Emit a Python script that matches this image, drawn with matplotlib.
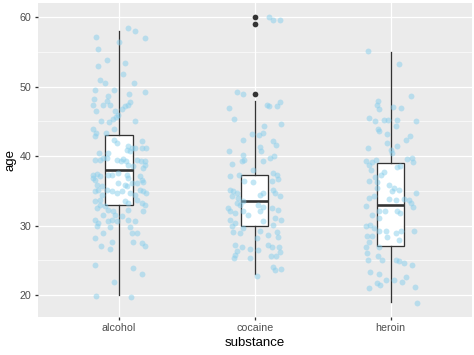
import matplotlib
matplotlib.use("Agg")
import matplotlib.pyplot as plt
import numpy as np

plt.rcParams['font.family'] = ['Liberation Sans', 'DejaVu Sans']

categories = ["alcohol", "cocaine", "heroin"]

# jittered observations: age values and horizontal jitter (category units)
alcohol_age = [58.4, 58.0, 57.0, 57.2, 56.5, 55.4, 53.8, 53.4, 53.0, 51.9, 50.9, 50.5, 50.5, 49.5, 49.5, 49.0,
               49.3, 48.7, 48.2, 47.9, 47.8, 47.3, 47.3, 47.4, 47.2, 47.4, 46.5, 46.5, 46.8, 45.7, 45.3, 45.1,
               44.9, 45.1, 46.0, 43.9, 43.4, 42.9, 43.4, 43.9,
               42.38, 41.9, 41.42, 41.18, 41.18, 41.18, 41.18, 40.94, 40.7, 42.24, 40.46, 39.5, 39.5, 39.74,
               39.74, 39.5, 39.26, 39.6, 39.26, 39.5, 39.26, 39.26, 38.68, 40.46, 38.77, 38.53, 38.29, 37.33,
               37.43, 37.09, 36.61, 36.85, 37.33, 37.33, 37.57, 37.33, 36.85, 37.09, 36.61, 36.27, 36.13, 36.13,
               35.89, 36.13, 35.65, 35.89, 35.65, 35.17, 34.93, 35.17, 34.93, 34.68, 34.93, 34.68, 35.17, 34.93,
               34.68, 34.44, 34.44, 33.72, 33.48, 33.48, 33.24, 33.72, 33.24, 33.0, 33.0, 32.76, 32.52, 32.28,
               32.04, 32.28, 32.04, 31.56, 31.46, 31.31, 30.83, 30.35, 30.59, 30.83, 30.59, 30.83, 30.59,
               29.96, 28.9, 29.86, 29.86, 28.9, 29.0, 28.18, 27.7, 27.12, 26.64, 27.7, 27.46, 27.07, 24.33,
               23.85, 22.98, 21.83, 19.9, 19.66]
alcohol_jitter = [0.064, 0.118, 0.192, -0.170, 0.002, -0.155, -0.086, 0.044, -0.153, 0.032, -0.140, -0.101, 0.111,
                  -0.177, -0.039, 0.076, 0.192, -0.079, -0.185, -0.091, 0.081, -0.116, -0.194, -0.066, 0.046, 0.069,
                  -0.170, -0.030, 0.020, -0.022, -0.042, -0.133, -0.072, 0.118, -0.005, -0.190, -0.172, -0.177,
                  -0.096, -0.037,
                  -0.034, -0.017, 0.069, 0.093, 0.118, 0.167, 0.195, 0.057, 0.081, 0.167, -0.148, -0.177, -0.140,
                  -0.116, -0.086, -0.017, 0.012, 0.032, 0.049, 0.130, 0.160, 0.192, 0.192, -0.079, 0.069, 0.106,
                  0.180, -0.189, -0.165, -0.140, -0.177, -0.195, -0.079, -0.054, -0.005, 0.057, 0.069, 0.155, 0.167,
                  0.180, 0.130, -0.005, 0.044, 0.093, 0.057, -0.165, -0.128, -0.153, -0.177, -0.091, -0.054, -0.017,
                  0.020, 0.081, 0.155, 0.180, 0.195, 0.118, -0.128, -0.140, -0.177, 0.044, 0.069, 0.130, 0.167,
                  0.192, -0.140, -0.103, -0.165, -0.079, -0.042, 0.069, 0.180, -0.116, -0.030, 0.020, -0.177,
                  -0.153, -0.079, -0.054, -0.017, 0.069, 0.118,
                  -0.165, -0.116, -0.066, 0.081, 0.094, 0.130, -0.177, -0.054, -0.135, -0.066, 0.106, 0.167, 0.192,
                  -0.177, 0.101, 0.167, -0.034, -0.172, 0.089]

cocaine_age = [60.05, 59.57, 59.57, 49.22, 48.98, 46.96, 45.42, 47.44, 47.2, 47.2, 47.83, 44.31, 44.7, 43.21, 43.01,
               43.35, 42.29, 42.24, 41.67, 41.28, 40.8, 40.8, 40.13, 40.08, 39.74, 39.36, 39.4, 39.36, 38.87,
               37.09, 37.33, 38.05, 37.57, 37.33, 36.7, 36.4, 36.4, 36.22, 35.16, 34.92, 34.68, 34.2, 33.96, 34.44,
               34.68, 35.16, 34.68, 34.3, 33.24, 33.0, 33.48, 33.0, 32.75, 32.51, 32.03, 31.79, 32.03, 31.55, 32.03,
               32.51, 32.18, 31.07, 30.83, 30.83, 30.35, 29.87, 29.63, 30.59, 30.11, 29.14, 28.9, 29.29, 28.66,
               29.14, 28.42, 28.18,
               27.22, 26.88, 26.4, 26.59, 26.49, 27.22, 26.88, 26.98, 26.25, 25.77, 25.39, 25.63, 25.68, 25.29,
               24.09, 23.61, 23.8, 22.74]
cocaine_jitter = [0.106, 0.135, 0.185, -0.130, -0.084, -0.189, -0.157, 0.091, 0.103, 0.165, 0.185, 0.069, 0.189,
                  -0.025, 0.032, 0.062, -0.089, 0.130, 0.157, 0.037, 0.044, -0.189, -0.091, 0.140, 0.111, -0.098,
                  -0.081, 0.057, -0.172,
                  -0.185, -0.116, -0.012, 0.130, 0.160, 0.172, 0.123, -0.079, -0.012, -0.185, -0.160, -0.135,
                  -0.172, -0.123, 0.037, 0.057, 0.135, 0.148, 0.185, -0.135, -0.111, -0.086, 0.025, 0.062, -0.195,
                  -0.185, -0.148, -0.086, -0.049, 0.037, 0.123, 0.172, 0.148, 0.190, -0.185, -0.148, -0.172, -0.086,
                  0.062, 0.135, -0.160, -0.111, 0.037, 0.098, 0.160, 0.172, 0.012,
                  -0.148, -0.098, -0.135, -0.037, 0.025, 0.098, 0.123, 0.180, 0.185, -0.148, -0.037, 0.118, 0.155,
                  -0.153, 0.130, 0.145, 0.195, 0.012]

heroin_age = [55.09, 53.31, 48.73, 48.01, 47.43, 46.86, 47.1, 46.95, 45.46, 45.03, 45.27, 45.27, 45.27, 45.03, 44.4,
              43.92, 43.58, 43.2, 42.86, 42.38, 41.9, 41.42, 41.13, 40.94, 40.46, 39.25, 38.77, 39.11, 39.4, 39.59,
              39.73, 39.11, 38.39, 38.63, 38.05, 37.33, 37.66, 36.94,
              36.37, 36.22, 35.89, 35.4, 35.16, 34.92, 35.4, 33.96, 34.2, 33.82, 33.72, 33.82, 33.72, 34.68, 33.24,
              32.66, 32.76, 32.04, 32.04, 32.04, 31.8, 31.55, 31.07, 30.11, 29.63, 29.15, 29.87, 29.15, 29.0, 29.24,
              29.24, 28.43, 28.43, 28.33, 27.94, 27.7, 26.98, 26.98,
              26.02, 25.63, 25.05, 25.05, 25.05, 24.96, 24.67, 24.33, 23.37, 23.03, 22.65, 22.17, 22.17, 21.93,
              21.78, 21.44, 21.06, 21.2, 18.8]
heroin_jitter = [-0.165, 0.062, 0.150, -0.093, -0.098, -0.086, 0.017, 0.074, -0.157, -0.116, -0.049, -0.020, 0.049,
                 0.185, 0.037, -0.091, -0.086, -0.025, 0.140, 0.111, -0.025, 0.049, -0.165, 0.0, 0.007, -0.180,
                 -0.160, -0.140, -0.111, 0.123, 0.155, 0.165, 0.049, 0.066, -0.148, -0.074, -0.049, -0.116,
                 -0.160, -0.098, -0.012, 0.025, 0.062, 0.012, -0.098, -0.160, -0.123, -0.012, 0.037, 0.098, 0.135,
                 0.185, 0.148, 0.167, -0.180, -0.086, -0.042, 0.049, 0.069, -0.135, -0.086, -0.155, -0.123, -0.086,
                 -0.185, -0.037, 0.037, 0.074, 0.172, -0.172, -0.135, -0.025, 0.062, -0.160, -0.185, -0.086,
                 -0.172, -0.091, -0.066, -0.167, 0.037, 0.062, 0.098, 0.155, -0.155, -0.086, 0.111, -0.037, 0.025,
                 0.086, -0.098, -0.079, -0.160, 0.180, 0.192]

# boxplot statistics
box_whislo = [20, 23, 19]
box_q1 = [33, 30, 27]
box_median = [38, 33.5, 33]
box_q3 = [43, 37.25, 39]
box_whishi = [58, 48, 55]
box_outliers = [[], [49, 59, 60], []]

ages = [alcohol_age, cocaine_age, heroin_age]
jitters = [alcohol_jitter, cocaine_jitter, heroin_jitter]

W, H, DPI = 474, 355, 72
fig = plt.figure(figsize=(W / DPI, H / DPI), dpi=DPI)
left, right, top, bottom = 37.5, 472.3, 3.3, 317.3
ax = fig.add_axes([left / W, 1 - bottom / H, (right - left) / W, (bottom - top) / H])
ax.set_facecolor('#EBEBEB')
for s in ax.spines.values():
    s.set_visible(False)

positions = np.arange(1, len(categories) + 1)

stats = []
for i in range(len(categories)):
    stats.append(dict(med=box_median[i], q1=box_q1[i], q3=box_q3[i],
                      whislo=box_whislo[i], whishi=box_whishi[i], fliers=box_outliers[i]))
ax.bxp(stats, positions=positions, widths=0.2, patch_artist=True, showcaps=False, manage_ticks=False,
       boxprops=dict(facecolor='white', edgecolor='#333333', linewidth=1.3),
       whiskerprops=dict(color='#333333', linewidth=1.3),
       medianprops=dict(color='#333333', linewidth=2.6, solid_capstyle='butt'),
       flierprops=dict(marker='o', markerfacecolor='#333333', markeredgecolor='none', markersize=5.7),
       zorder=2)

for i, (a, j) in enumerate(zip(ages, jitters)):
    ax.scatter(positions[i] + np.array(j), a, s=5.9 ** 2, color='#87CEEB', alpha=0.5,
               linewidths=0, zorder=3)

ax.set_xlim(0.4, 3.6)
ax.set_ylim(16.79, 62.02)

# grid and ticks
ax.set_yticks([20, 30, 40, 50, 60])
ax.set_yticks([25, 35, 45, 55], minor=True)
ax.set_xticks(positions)
ax.set_xticklabels(categories)
ax.grid(True, which='major', color='white', linewidth=1.3)
ax.grid(True, which='minor', axis='y', color='white', linewidth=0.65)
ax.set_axisbelow(True)

ax.tick_params(axis='both', which='major', length=3.3, width=1.3, color='#333333',
               labelcolor='#4D4D4D', labelsize=10.6, pad=2.6)
ax.tick_params(axis='both', which='minor', length=0)
ax.set_xlabel('substance', fontsize=13.2, color='black', labelpad=3.5)
ax.set_ylabel('age', fontsize=13.2, color='black', labelpad=3.5)

fig.savefig('out.png', dpi=DPI)
